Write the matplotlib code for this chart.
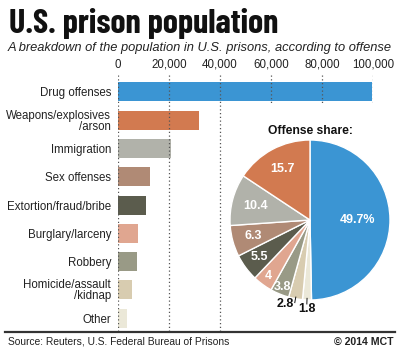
import numpy as np
import matplotlib
matplotlib.use("Agg")
import matplotlib.pyplot as plt

plt.rcParams["font.family"] = ["Liberation Sans", "DejaVu Sans"]

# data
categories = ["Drug offenses", "Weapons/explosives\n/arson", "Immigration", "Sex offenses",
              "Extortion/fraud/bribe", "Burglary/larceny", "Robbery", "Homicide/assault\n/kidnap", "Other"]
inmates = [99800, 31600, 20900, 12700, 11100, 8000, 7600, 5600, 3600]
share = [49.7, 15.7, 10.4, 6.3, 5.5, 4, 3.8, 2.8, 1.8]
share_labels = ["49.7%", "15.7", "10.4", "6.3", "5.5", "4", "3.8", "2.8", "1.8"]
ticks = [0, 20000, 40000, 60000, 80000, 100000]

colors = ["#3b95d3", "#d27a50", "#b1b2aa", "#b08a75", "#5b5c4d",
          "#e0a690", "#999a86", "#d8ccb0", "#ebe8d8"]

W, H = 400, 350
fig = plt.figure(figsize=(4, 3.5), dpi=100)

fig.text(9/W, 1-33/H, "U.S. prison population", family=["Barlow Condensed", "DejaVu Sans"],
         fontstretch="condensed", fontweight="bold", fontsize=24.6, ha="left", va="baseline",
         color="#111111")
fig.text(8/W, 1-48/H, "A breakdown of the population in U.S. prisons, according to offense",
         fontstyle="italic", fontsize=9.25, ha="left", va="center", color="#222222")

# bar chart
ax = fig.add_axes([118/W, 1-332/H, (373-118)/W, (332-75)/H])
y = np.arange(len(categories))
ax.barh(y, inmates, height=0.67, color=colors, zorder=2)
ax.set_xlim(0, 100000)
ax.set_ylim(8.49, -0.6)
ax.xaxis.tick_top()
ax.set_xticks(ticks)
ax.set_xticklabels(["{:,}".format(t) for t in ticks], fontsize=8.3, color="#222222")
ax.set_yticks(y)
ax.set_yticklabels(categories, fontsize=8.3, color="#222222", linespacing=0.9)
ax.tick_params(length=0, pad=3)
ax.tick_params(axis="y", pad=5)
for s in ax.spines.values():
    s.set_visible(False)

for t in ticks:
    bottom = 8.49 if t <= 40000 else 0.45
    ax.plot([t, t], [-0.6, bottom], ls=(0, (1, 2)), color="#555555", lw=0.9, zorder=3)

# pie chart: drug first, then the rest in reverse, clockwise from the top
order = [0] + list(range(len(share) - 1, 0, -1))
ax2 = fig.add_axes([230/W, 1-300/H, 160/W, 160/H])
ax2.pie([share[i] for i in order], colors=[colors[i] for i in order], startangle=90,
        counterclock=False, wedgeprops=dict(edgecolor="white", linewidth=1))
ax2.set_xlim(-1, 1)
ax2.set_ylim(-1, 1)
ax2.set_aspect("equal")
ax2.axis("off")

label_r = {0: 0.6, 1: 0.72, 2: 0.71, 3: 0.74, 4: 0.78, 5: 0.87, 6: 0.91, 7: 1.1, 8: 1.11}
label_dang = {7: -6, 8: 0}
start = 0.0
for i in order:
    v = share[i]
    mid = start + v/2
    start += v
    ang = np.deg2rad(90 - mid*3.6)
    r = label_r[i]
    if r < 1:
        ax2.text(r*np.cos(ang), r*np.sin(ang), share_labels[i], ha="center", va="center",
                 fontsize=9, fontweight="bold", color="white")
    else:
        ang2 = ang + np.deg2rad(label_dang[i])
        ax2.text(r*np.cos(ang2), r*np.sin(ang2), share_labels[i], ha="center", va="center",
                 fontsize=9, fontweight="bold", color="#111111")
        ax2.plot([0.98*np.cos(ang), 1.05*np.cos(ang)], [0.98*np.sin(ang), 1.05*np.sin(ang)],
                 color="#111111", lw=0.7, clip_on=False)

fig.text(310/W, 1-131/H, "Offense share:", fontweight="bold", fontsize=8.7,
         ha="center", va="center", color="#111111")

# footer
fig.add_artist(plt.Line2D([5/W, 395/W], [1-332/H, 1-332/H], color="#333333", lw=1.6))
fig.text(8/W, 1-342/H, "Source: Reuters, U.S. Federal Bureau of Prisons", fontsize=7.4,
         ha="left", va="center", color="#222222")
fig.text(393/W, 1-342/H, "\u00a9 2014 MCT", fontsize=7.6, fontweight="bold",
         ha="right", va="center", color="#222222")

fig.savefig("out.png", dpi=100)
